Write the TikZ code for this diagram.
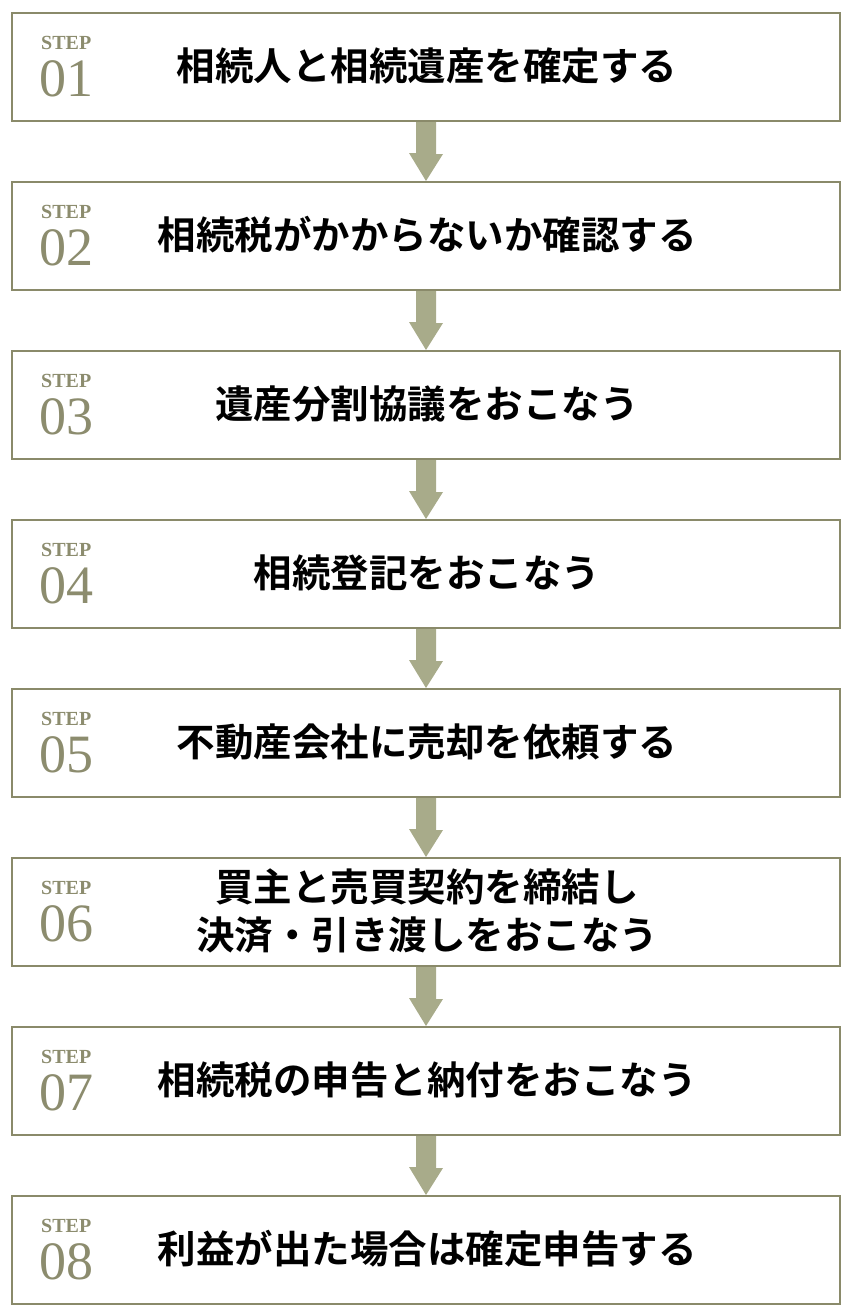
\documentclass[tikz,border=0pt]{standalone}
\usepackage{fontspec}
\setmainfont{Liberation Serif}
\newfontfamily\cjk{Noto Sans CJK JP}[BoldFont={* Bold}]
\definecolor{bord}{HTML}{8A8A6A}
\definecolor{arr}{HTML}{A8AB8A}
\definecolor{lab}{HTML}{8C8C6E}
\tikzset{
 stepbox/.style={draw=bord,line width=2pt,minimum width=828pt,minimum height=108pt,inner sep=0pt,fill=white},
 steplab/.style={text=lab,font=\bfseries\fontsize{20}{20}\selectfont,anchor=west,inner sep=0pt},
 stepnum/.style={text=lab,font=\fontsize{54}{54}\selectfont,anchor=west,inner sep=0pt},
 title/.style={font=\cjk\bfseries\fontsize{38.5}{48}\selectfont,align=center,inner sep=0pt},
 flowarrow/.style={fill=arr,draw=none}
}
\begin{document}
\begin{tikzpicture}[x=1pt,y=-1pt]
\useasboundingbox (0,0) rectangle (850,1315);
\foreach \i/\t in {1/相続人と相続遺産を確定する,2/相続税がかからないか確認する,3/遺産分割協議をおこなう,4/相続登記をおこなう,5/不動産会社に売却を依頼する,6/{買主と売買契約を締結し\\決済・引き渡しをおこなう},7/相続税の申告と納付をおこなう,8/利益が出た場合は確定申告する}{
  \pgfmathsetmacro\yy{12+169*(\i-1)}
  \node[stepbox,anchor=north west] (b\i) at (11,\yy) {};
  \node[steplab] (s\i) at ([xshift=30pt,yshift=-31pt]b\i.north west) {STEP};
  \node[stepnum] (n\i) at ([xshift=28pt,yshift=-67pt]b\i.north west) {0\i};
  \node[title] (t\i) at ([xshift=1pt,yshift=1pt]b\i.center) {\t};
}
\foreach \i [evaluate=\i as \j using int(\i+1)] in {1,...,7}{
  \fill[flowarrow] ([xshift=-10pt]b\i.south) -- ([xshift=10pt]b\i.south) -- ++(0,32) -- ++(7,0) -- (b\j.north) -- ++(-17,-28) -- ++(7,0) -- cycle;
}
\end{tikzpicture}
\end{document}
